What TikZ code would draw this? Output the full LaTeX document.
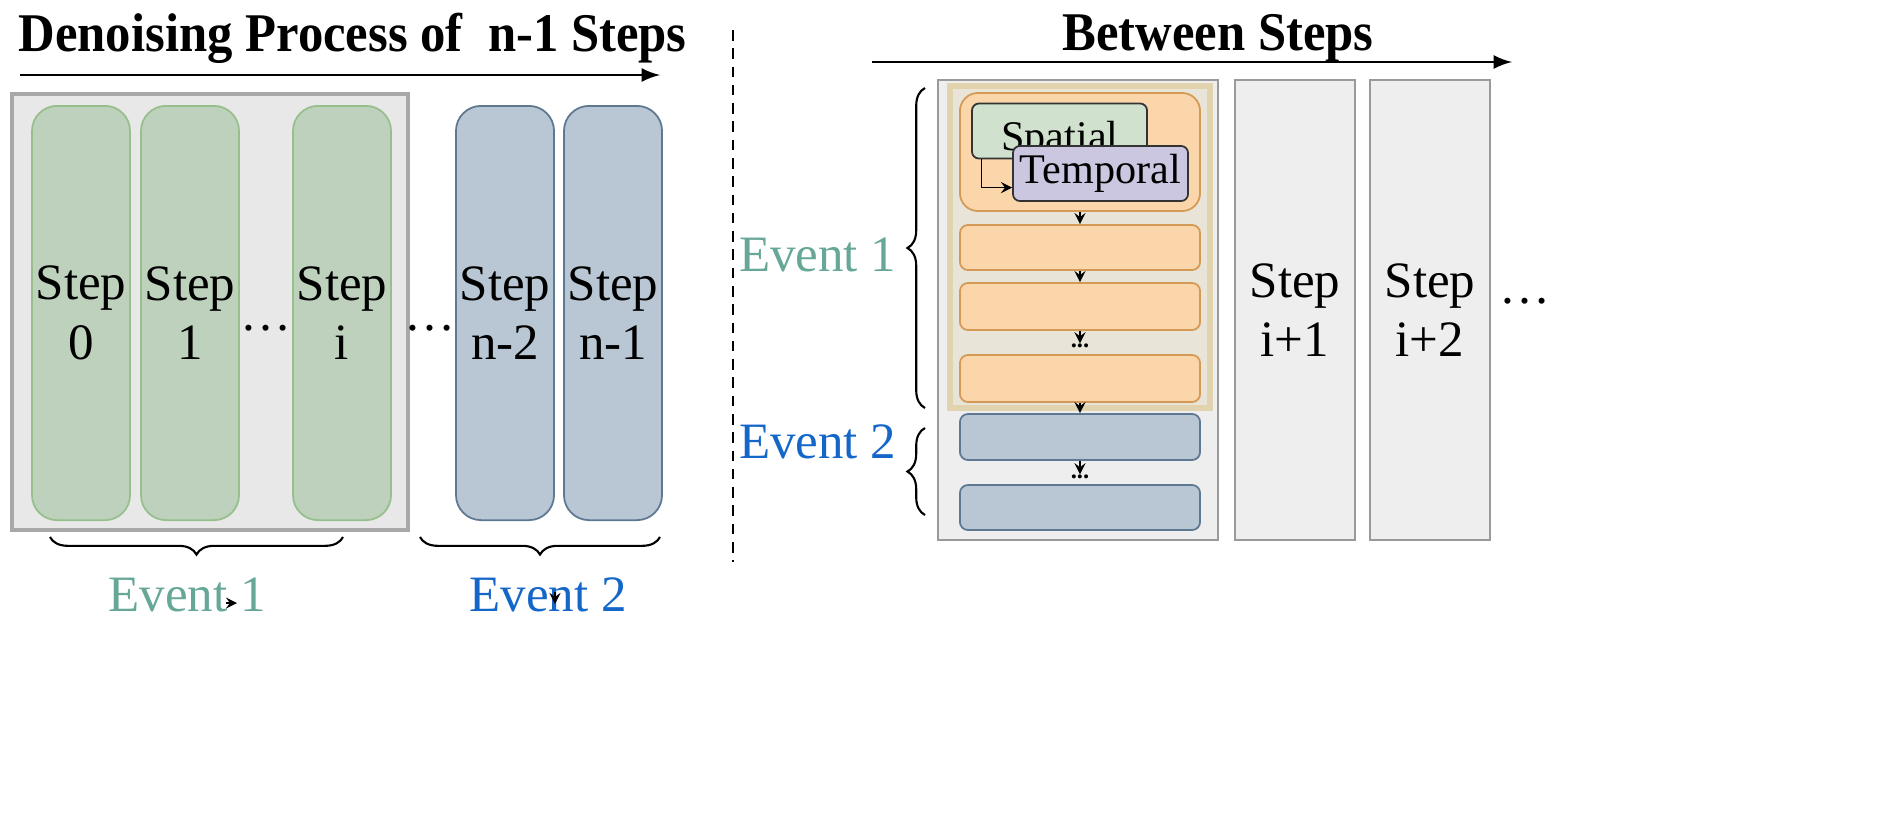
\documentclass[tikz,border=0pt]{standalone}
\usepackage{fontspec}
\setmainfont{Liberation Serif}
\newfontfamily\titlefont{Liberation Serif}[FakeStretch=0.93]
\usetikzlibrary{positioning,arrows,decorations.pathreplacing}

\definecolor{stepgreen}{HTML}{BDD1BC}
\definecolor{stepgreenline}{HTML}{97BF8C}
\definecolor{stepblue}{HTML}{B8C7D3}
\definecolor{stepblueline}{HTML}{5F7892}
\definecolor{boxgray}{HTML}{E8E8E8}
\definecolor{boxgrayline}{HTML}{A8A8A8}
\definecolor{colgray}{HTML}{EEEEEF}
\definecolor{colgrayline}{HTML}{9A9A9A}
\definecolor{roworange}{HTML}{FAD6AA}
\definecolor{roworangeline}{HTML}{D49A55}
\definecolor{beige}{HTML}{E9E4D8}
\definecolor{beigeline}{HTML}{E2D3AF}
\definecolor{spatialgreen}{HTML}{D0E2CE}
\definecolor{temporalpurple}{HTML}{CCC7E0}
\definecolor{eventteal}{HTML}{67A798}
\definecolor{eventblue}{HTML}{1467C8}

\begin{document}
\begin{tikzpicture}[x=0.01cm, y=-0.01cm,
                   every node/.style = {align=center, inner sep=0pt},
                   stepcol/.style = {rounded corners=0.25cm, minimum width=0.98cm,
                   minimum height=4.14cm, line width=0.5pt,
                   font=\fontsize{14.5}{17}\selectfont},
                   greenstep/.style = {stepcol, draw=stepgreenline, fill=stepgreen},
                   bluestep/.style = {stepcol, draw=stepblueline, fill=stepblue},
                   graystep/.style = {draw=colgrayline, fill=colgray, line width=0.5pt,
                   minimum width=1.2cm, minimum height=4.6cm,
                   font=\fontsize{14.5}{17}\selectfont},
                   blockrow/.style = {draw=roworangeline, fill=roworange, line width=0.5pt,
                   rounded corners=0.08cm, minimum width=2.4cm},
                   bluerow/.style = {blockrow, draw=stepblueline, fill=stepblue},
                   sublayer/.style = {draw=black!80, rounded corners=0.07cm, line width=0.5pt,
                   minimum width=1.75cm, minimum height=0.55cm,
                   font=\fontsize{12}{14}\selectfont},
                   curly/.style = {decorate, decoration={brace, amplitude=5pt}, line width=0.6pt},
                   eventlbl/.style = {font=\fontsize{14.5}{17}\selectfont},
                   ellip/.style = {anchor=base, font=\fontsize{14.5}{17}\selectfont},
                   tinydots/.style = {font=\fontsize{7}{8}\selectfont\bfseries},
                   heading/.style = {font=\titlefont\bfseries\fontsize{15.5}{18}\selectfont},
                   flow/.style = {-latex, line width=0.8pt},
                   smallflow/.style = {-stealth, line width=0.4pt}]
  \useasboundingbox (0,0) rectangle (1900,832);

  % left half: the whole denoising run
  \node[heading, anchor=west] (lefttitle) at (18,38) {Denoising Process of\ \ n-1 Steps};
  \coordinate (runstart) at (20,75);
  \coordinate (runend) at (660,75);
  \draw[flow] (runstart) -- (runend);

  \node[draw=boxgrayline, fill=boxgray, line width=1.1pt,
        minimum width=3.96cm, minimum height=4.35cm] (evbox) at (210,312) {};
  \node[greenstep] (s0) at (81,313) {Step\\0};
  \node[greenstep] (s1) at (190,313) {Step\\1};
  \node[greenstep] (si) at (342,313) {Step\\i};
  \node[ellip] (gap1) at (266,330) {…};
  \node[ellip] (gap2) at (430,330) {…};
  \node[bluestep] (sn2) at (505,313) {Step\\n-2};
  \node[bluestep] (sn1) at (613,313) {Step\\n-1};

  \draw[curly] (343,537) -- (50,537);
  \draw[curly] (660,537) -- (420,537);
  \node[eventlbl, text=eventteal] (ev1) at (187,595) {Event 1};
  \node[eventlbl, text=eventblue] (ev2) at (548,595) {Event 2};
  \coordinate (tipa) at (226,603);
  \coordinate (tipb) at (237,603);
  \draw[smallflow] (tipa) -- (tipb);
  \coordinate (tipc) at (555,592);
  \coordinate (tipd) at (555,604);
  \draw[smallflow] (tipc) -- (tipd);

  \draw[dashed, line width=0.8pt, dash pattern=on 3pt off 2.2pt] (733,30) -- (733,562);

  % right half: inside one step
  \node[heading] (righttitle) at (1218,38) {Between Steps};
  \coordinate (stepstart) at (872,62);
  \coordinate (stepend) at (1512,62);
  \draw[flow] (stepstart) -- (stepend);

  \node[draw=colgrayline, fill=colgray, line width=0.5pt,
        minimum width=2.8cm, minimum height=4.6cm] (col) at (1078,310) {};
  \node[draw=beigeline, fill=beige, line width=1.5pt,
        minimum width=2.6cm, minimum height=3.22cm] (ev1box) at (1080,247) {};
  \node[blockrow, rounded corners=0.18cm, minimum height=1.18cm] (attn) at (1080,152) {};
  \node[sublayer, fill=spatialgreen] (spatial) at (1059.5,131) {};
  \node[anchor=base, font=\fontsize{12}{14}\selectfont] (spatialtxt) at (1060,150) {Spatial};
  \node[sublayer, fill=temporalpurple] (temporal) at (1100.5,173.5) {Temporal};
  \draw[smallflow] ([xshift=3pt]spatial.south west) |- ([yshift=-4pt]temporal.west);

  \node[blockrow, minimum height=0.45cm] (l1) at (1080,247.5) {};
  \node[blockrow, minimum height=0.47cm] (l2) at (1080,306.5) {};
  \node[blockrow, minimum height=0.47cm] (l3) at (1080,378.5) {};
  \node[bluerow, minimum height=0.46cm] (b1) at (1080,437) {};
  \node[bluerow, minimum height=0.45cm] (b2) at (1080,507.5) {};
  \node[tinydots] (more1) at (1080,346) {...};
  \node[tinydots] (more2) at (1080,477) {...};
  \draw[smallflow] (attn) -- (l1);
  \draw[smallflow] (l1) -- (l2);
  \draw[smallflow] (l2) -- (more1);
  \draw[smallflow] (l3) -- (b1);
  \draw[smallflow] (b1) -- (more2);

  \draw[curly] (925,408) -- (925,88);
  \draw[curly] (925,515) -- (925,428);
  \node[eventlbl, text=eventteal, anchor=east] (rev1) at (897,255) {Event 1};
  \node[eventlbl, text=eventblue, anchor=east] (rev2) at (897,442) {Event 2};

  \node[graystep] (sip1) at (1295,310) {Step\\i+1};
  \node[graystep] (sip2) at (1430,310) {Step\\i+2};
  \node[ellip] (gap3) at (1525,303) {…};
\end{tikzpicture}
\end{document}
